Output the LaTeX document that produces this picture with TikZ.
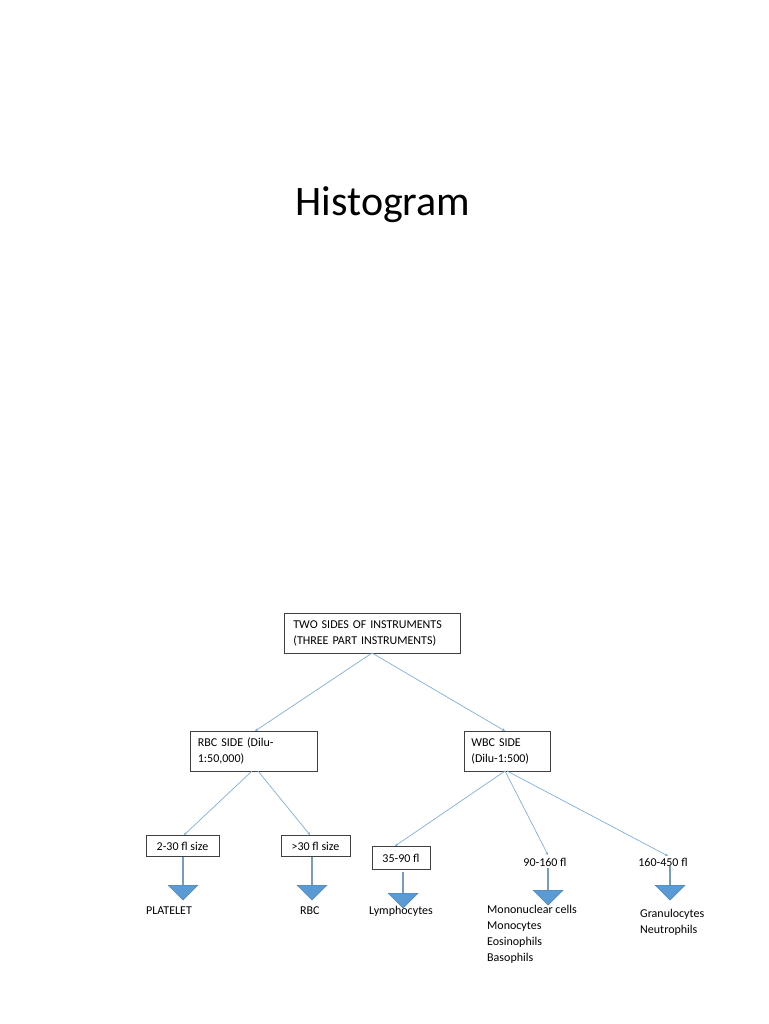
\documentclass[tikz,border=0pt]{standalone}
\usepackage{fontspec}
\setmainfont{Carlito}
\usetikzlibrary{arrows.meta,shapes.arrows}
\definecolor{lb}{HTML}{7FAEDF}
\definecolor{bb}{HTML}{5B9BD5}
\begin{document}
\begin{tikzpicture}[x=1pt,y=-1pt,
  box/.style={draw=black!75,line width=0.8pt,align=left,inner sep=0pt,font=\fontsize{12}{16}\selectfont},
  lab/.style={align=left,inner sep=0pt,font=\fontsize{12}{16}\selectfont,anchor=west},
  con/.style={lb,line width=0.7pt,-{Stealth[length=3pt,width=3pt]}},
  blk/.style={single arrow,draw=bb!80!black,line width=0.4pt,fill=bb,shape border rotate=270,minimum width=30pt,single arrow head extend=7pt,single arrow head indent=0pt,inner sep=0pt}]
\useasboundingbox (0,0) rectangle (768,1024);
\node[font=\fontsize{42}{46}\selectfont] (title) at (383,205) {Histogram};
\node[box,minimum width=176pt,minimum height=40pt,anchor=north west,text width=166pt] (top) at (284,613) {\hspace*{4pt}TWO SIDES OF INSTRUMENTS\\\hspace*{4pt}(THREE PART INSTRUMENTS)};
\node[box,minimum width=127pt,minimum height=40pt,anchor=north west,text width=120pt] (rbc) at (190,731) {\hspace*{4pt}RBC SIDE (Dilu-\\\hspace*{4pt}1:50,000)};
\node[box,minimum width=86pt,minimum height=40pt,anchor=north west,text width=80pt] (wbc) at (464,731) {\hspace*{4pt}WBC SIDE\\\hspace*{4pt}(Dilu-1:500)};
\node[box,minimum width=73pt,minimum height=21pt,align=center] (p1) at (182.5,846) {2-30 fl size};
\node[box,minimum width=69pt,minimum height=21pt,align=center] (p2) at (315.5,846) {>30 fl size};
\node[box,minimum width=58pt,minimum height=23pt,align=center] (l1) at (401,858) {35-90 fl};
\node[inner sep=1pt,font=\fontsize{12}{14}\selectfont] (m1) at (545,862) {90-160 fl};
\node[inner sep=1pt,font=\fontsize{12}{14}\selectfont] (g1) at (663,862) {160-450 fl};
\node[blk,minimum height=43pt,anchor=tail] (a1) at (183,857) {};
\node[blk,minimum height=43pt,anchor=tail] (a2) at (312,857) {};
\node[blk,minimum height=36pt,anchor=tail] (a3) at (403,872) {};
\node[blk,minimum height=37pt,anchor=tail] (a4) at (548,868) {};
\node[blk,minimum height=34pt,anchor=tail] (a5) at (670,866) {};
\node[lab] (t1) at (146,911) {PLATELET};
\node[lab] (t2) at (300,911) {RBC};
\node[lab] (t3) at (369,911) {Lymphocytes};
\node[lab,anchor=north west] (t4) at (487,905) {Mononuclear cells\\Monocytes\\Eosinophils\\Basophils};
\node[lab,anchor=north west] (t5) at (640,909) {Granulocytes\\Neutrophils};
\coordinate (tb) at (372,653);
\draw[con] (tb) -- (255,731);
\draw[con] (tb) -- (505,731);
\draw[con] (252,771) -- (184,835);
\draw[con] (258,771) -- (310,835);
\draw[con] (505,771) -- (395,846);
\draw[con] (505,771) -- (548,855);
\draw[con] (507,771) -- (668,856);
\end{tikzpicture}
\end{document}
